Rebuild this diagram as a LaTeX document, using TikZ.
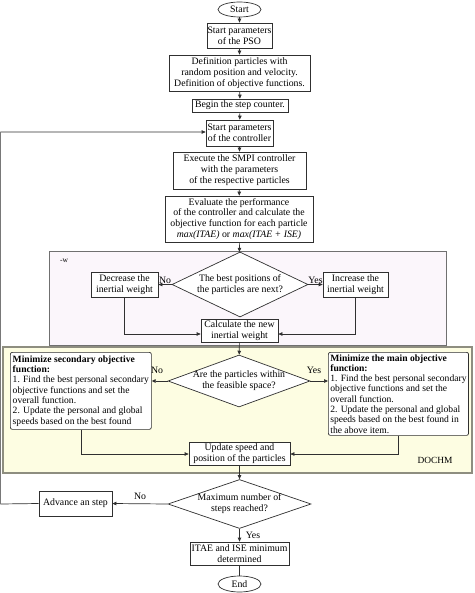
\documentclass[tikz,border=0pt]{standalone}
\usepackage{fontspec}
\setmainfont{Liberation Serif}
\usetikzlibrary{shapes.geometric,arrows.meta}
\definecolor{lnc}{HTML}{303030}
\definecolor{purplefill}{HTML}{FBF6FB}
\definecolor{purpleline}{HTML}{707070}
\definecolor{yellowfill}{HTML}{FDFDE2}
\definecolor{yellowline}{HTML}{8E8E80}
\tikzset{
  base/.style={font=\fontsize{9.8}{10.9}\selectfont, text=black},
  pbox/.style={base, draw=lnc, line width=0.7pt, fill=white, rectangle, inner sep=0pt, align=center},
  rbox/.style={base, font=\fontsize{9.6}{10.3}\selectfont, draw=lnc, line width=0.7pt, fill=white, rectangle, rounded corners=2pt, inner sep=2pt, align=left, anchor=north west},
  term/.style={base, draw=lnc, line width=0.7pt, fill=white, ellipse, inner sep=0pt},
  dia/.style={draw=lnc, line width=0.7pt, fill=white, diamond, inner sep=0pt},
  dtext/.style={base, align=center, inner sep=0pt},
  lbl/.style={base, inner sep=0pt},
  arr/.style={draw=lnc, line width=0.7pt, -{Triangle[length=4pt,width=3.5pt]}},
  ln/.style={draw=lnc, line width=0.7pt},
}
\begin{document}
\begin{tikzpicture}[x=1pt,y=-1pt]
\useasboundingbox (0,0) rectangle (474,593);
% regions
\path[fill=purplefill, draw=purpleline, line width=0.9pt] (49,251) rectangle (446,345);
\path[fill=yellowfill, draw=yellowline, line width=1.3pt] (3,347) rectangle (472,473);
\node[lbl, font=\fontsize{7.5}{8}\selectfont] (wlbl) at (64,261) {-w};
\node[lbl, font=\fontsize{9.4}{10}\selectfont] (dochm) at (435,460) {DOCHM};

% nodes
\node[term, minimum width=43pt, minimum height=15pt] (start) at (239.5,9.5) {Start};
\node[pbox, minimum width=65pt, minimum height=25pt] (b1) at (239.5,35.5) {Start parameters\\of the PSO};
\node[pbox, minimum width=141pt, minimum height=36pt] (b2) at (239.5,73) {Definition particles with\\random position and velocity.\\Definition of objective functions.};
\node[pbox, minimum width=96pt, minimum height=13pt] (b3) at (240,105.5) {Begin the step counter.};
\node[pbox, minimum width=67pt, minimum height=26pt] (b4) at (239.5,133) {Start parameters\\of the controller};
\node[pbox, minimum width=133pt, minimum height=37pt] (b5) at (239.5,170.5) {Execute the SMPI controller\\with the parameters\\of the respective particles};
\node[pbox, minimum width=148pt, minimum height=46pt] (b6) at (239,219) {Evaluate the performance\\of the controller and calculate the\\objective function for each particle\\\textit{max(ITAE)} or \textit{max(ITAE + ISE)}};

\node[dia, minimum width=136pt, minimum height=65pt] (d1) at (240,284.5) {};
\node[dtext] (d1t) at (240,284.5) {The best positions of\\the particles are next?};
\node[pbox, minimum width=67pt, minimum height=25pt] (dec) at (124.5,284.5) {Decrease the\\inertial weight};
\node[pbox, minimum width=65pt, minimum height=25pt] (inc) at (355.5,284.5) {Increase the\\inertial weight};
\node[pbox, minimum width=77pt, minimum height=23pt] (calc) at (239.5,330.5) {Calculate the new\\inertial weight};

\node[dia, minimum width=142pt, minimum height=52pt] (d2) at (239,381) {};
\node[dtext] (d2t) at (239,381) {Are the particles within\\the feasible space?};
\node[rbox, minimum width=141pt, minimum height=77pt] (sec) at (10,352) {\textbf{Minimize secondary objective}\\\textbf{function:}\\1. Find the best personal secondary\\objective functions and set the\\overall function.\\2. Update the personal and global\\speeds based on the best found};
\node[rbox, minimum width=139pt, minimum height=83pt] (main) at (328,352) {\textbf{Minimize the main objective}\\\textbf{function:}\\1. Find the best personal secondary\\objective functions and set the\\overall function.\\2. Update the personal and global\\speeds based on the best found in\\the above item.};
\node[pbox, minimum width=101pt, minimum height=23pt] (upd) at (239.5,453.5) {Update speed and\\position of the particles};

\node[dia, minimum width=143pt, minimum height=49pt] (d3) at (239.5,504) {};
\node[dtext] (d3t) at (239.5,504) {Maximum number of\\steps reached?};
\node[pbox, minimum width=73pt, minimum height=25pt] (adv) at (75.5,503.5) {Advance an step};
\node[pbox, minimum width=99pt, minimum height=23pt] (itae) at (239.5,553.5) {ITAE and ISE minimum\\determined};
\node[term, minimum width=43pt, minimum height=16pt] (end) at (239.5,584) {End};

% connectors
\draw[arr] (start) -- (b1);
\draw[arr] (b1) -- (b2);
\draw[arr] (b2) -- (b3);
\draw[arr] (b3) -- (b4);
\draw[arr] (b4) -- (b5);
\draw[arr] (b5) -- (b6);
\draw[arr] (b6) -- (d1);
\draw[arr] (d1.west) -- (dec.east) node[lbl, pos=0.5, above=1pt] (no1) {No};
\draw[arr] (d1.east) -- (inc.east -| inc.west) node[lbl, pos=0.5, above=1pt] (yes1) {Yes};
\draw[arr] (dec.south) |- ([yshift=-3.5pt]calc.west);
\draw[arr] (inc.south) |- ([yshift=-3.5pt]calc.east);
\draw[arr] (calc) -- (d2);
\draw[arr] (d2.west) -- (sec.east |- d2.west);
\draw[arr] (d2.east) -- (main.west |- d2.east);
\node[lbl] (no2) at (157,370) {No};
\node[lbl] (yes2) at (314,370) {Yes};
\draw[arr] ([xshift=0.5pt]sec.south) |- ([yshift=-0.5pt]upd.west);
\draw[arr] (main.south) |- ([yshift=-0.5pt]upd.east);
\draw[arr] (upd) -- (d3);
\draw[arr] (d3.west) -- (adv.east) node[lbl, pos=0.5, above=4pt] (no3) {No};
\draw[arr] (d3) -- (itae) node[lbl, pos=0.5, right=6pt] (yes3) {Yes};
\draw[ln] (itae) -- (end);
\draw[arr] (adv.west) -- (0.6,504) -- (0.6,132) -- ([yshift=1pt]b4.west);
\end{tikzpicture}
\end{document}
